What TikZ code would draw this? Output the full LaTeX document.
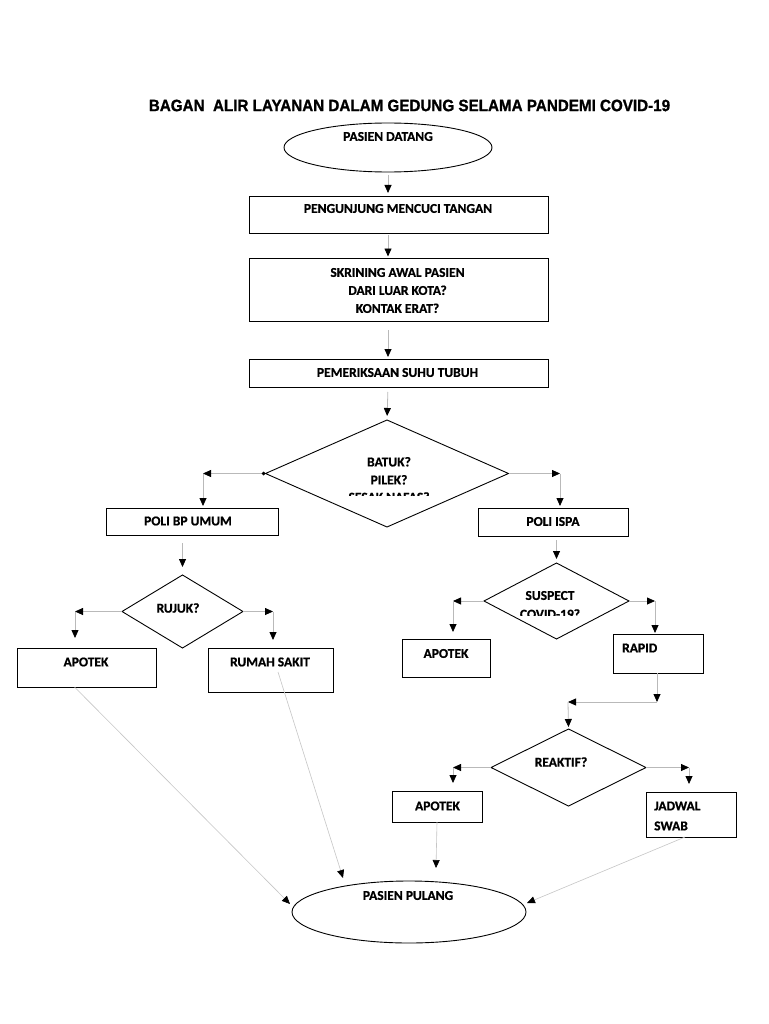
\documentclass[tikz,border=0pt]{standalone}
\usepackage{fontspec}
\setmainfont[BoldFeatures={FakeBold=0.8}]{Carlito}
\newfontfamily\titlefont[BoldFeatures={FakeBold=1.2}]{Liberation Sans}
\usetikzlibrary{arrows.meta,shapes.geometric,calc}
\begin{document}
\begin{tikzpicture}[x=1pt,y=-1pt,
  shp/.style={draw=black,line width=0.9pt,inner sep=0pt,outer sep=0pt},
  box/.style={shp,rectangle},
  ell/.style={shp,ellipse},
  dia/.style={shp,diamond},
  lbl/.style={font=\bfseries\fontsize{13.5}{18}\selectfont,inner sep=0pt,align=center,text=black},
  conn/.style={draw=gray!55,line width=0.8pt,arrows={-Triangle[length=8pt,width=7pt,color=black]}},
  thinconn/.style={conn,draw=gray!45,line width=0.6pt},
]
\useasboundingbox[fill=white] (0,0) rectangle (768,1024);

% title
\node[lbl,font=\titlefont\bfseries\fontsize{15.2}{18}\selectfont,yscale=1.08] (title) at (409.5,105.5) {BAGAN\ \ ALIR LAYANAN DALAM GEDUNG SELAMA PANDEMI COVID-19};

% start
\node[ell,minimum width=208pt,minimum height=49pt] (pd) at (388,147.5) {};
\node[lbl] (pdt) at (388,136.5) {PASIEN DATANG};

% boxes
\node[box,minimum width=299pt,minimum height=37pt] (b1) at (398.5,214.5) {};
\node[lbl] (b1t) at (398,208.5) {PENGUNJUNG MENCUCI TANGAN};
\node[box,minimum width=299pt,minimum height=63pt] (b2) at (398.5,289.5) {};
\node[lbl] (b2t) at (397.5,290.5) {SKRINING AWAL PASIEN\\DARI LUAR KOTA?\\KONTAK ERAT?};
\node[box,minimum width=299pt,minimum height=28pt] (b3) at (398.5,373) {};
\node[lbl] (b3t) at (397.5,372.5) {PEMERIKSAAN SUHU TUBUH};

% decision 1
\node[dia,minimum width=243pt,minimum height=107pt] (d1) at (387,473.5) {};
\node[lbl] (d1t) at (389,470.8) {BATUK?\\PILEK?};
\begin{scope}
  \clip (300,440) rectangle (480,495.5);
  \node[lbl] (d1c) at (389,497) {SESAK NAFAS?};
\end{scope}

\node[box,minimum width=172pt,minimum height=27pt] (pbu) at (192,521.5) {};
\node[lbl] (pbut) at (188,521) {POLI BP UMUM};
\node[box,minimum width=150pt,minimum height=28pt] (pis) at (553,522) {};
\node[lbl] (pist) at (553,521.5) {POLI ISPA};

% decision RUJUK
\node[dia,minimum width=121pt,minimum height=73pt] (d2) at (182.5,611.5) {};
\node[lbl] (d2t) at (178,608) {RUJUK?};
\node[box,minimum width=139pt,minimum height=39pt] (a1) at (86.5,667.5) {};
\node[lbl] (a1t) at (86,662) {APOTEK};
\node[box,minimum width=125pt,minimum height=44pt] (rs) at (270.5,670) {};
\node[lbl] (rst) at (270,662) {RUMAH SAKIT};

% decision SUSPECT
\node[dia,minimum width=145pt,minimum height=76pt] (d3) at (556.5,601) {};
\node[lbl] (d3t) at (550,595.5) {SUSPECT};
\begin{scope}
  \clip (490,600) rectangle (620,615.5);
  \node[lbl] (d3c) at (550,614) {COVID-19?};
\end{scope}
\node[box,minimum width=88pt,minimum height=38pt] (a2) at (446,658) {};
\node[lbl] (a2t) at (446,653.5) {APOTEK};
\node[box,minimum width=90pt,minimum height=39pt] (rp) at (658,653.5) {};
\node[lbl,anchor=west] (rpt) at (622,648) {RAPID};

% decision REAKTIF
\node[dia,minimum width=155pt,minimum height=77pt] (d4) at (568.5,767.5) {};
\node[lbl] (d4t) at (561,762) {REAKTIF?};
\node[box,minimum width=90pt,minimum height=31pt] (a3) at (437,806.5) {};
\node[lbl] (a3t) at (437.5,806) {APOTEK};
\node[box,minimum width=90pt,minimum height=45pt] (js) at (691,814.5) {};
\node[lbl,anchor=west,align=left,font=\bfseries\fontsize{13.5}{20}\selectfont] (jst) at (654,816) {JADWAL\\SWAB};

% end
\node[ell,minimum width=234pt,minimum height=62pt] (pp) at (409,912) {};
\node[lbl] (ppt) at (408,895.5) {PASIEN PULANG};

% main vertical connectors
\draw[conn,shorten <=3pt,shorten >=3pt] (pd.south) -- (pd.south |- b1.north);
\draw[conn,shorten <=2pt,shorten >=1.5pt] (pd.south |- b1.south) -- (pd.south |- b2.north);
\draw[conn,shorten <=9pt,shorten >=2pt] (pd.south |- b2.south) -- (pd.south |- b3.north);
\draw[conn,shorten <=5pt,shorten >=4pt] (pd.south |- b3.south) -- (d1.north);

% decision 1 branches
\coordinate (c1) at (203,473.5);
\coordinate (c2) at (560,473.5);
\draw[conn,arrows={Diamond[length=4pt,width=4pt,color=black]-Triangle[length=8pt,width=7pt,color=black]}] (d1.west) -- (c1);
\draw[conn,shorten >=2pt] (c1) -- (c1 |- pbu.north);
\draw[conn] (d1.east) -- (c2);
\draw[conn,shorten >=2pt] (c2) -- (c2 |- pis.north);

% RUJUK
\draw[conn,shorten <=8pt,shorten >=8pt] (pbu.south -| d2.north) -- (d2.north);
\coordinate (c3) at (75,611.5);
\coordinate (c4) at (273,611.5);
\draw[conn] (d2.west) -- (c3);
\draw[conn,shorten >=10pt] (c3) -- (c3 |- a1.north);
\draw[conn] (d2.east) -- (c4);
\draw[conn,shorten >=8pt] (c4) -- (c4 |- rs.north);

% SUSPECT
\draw[conn,shorten <=4pt,shorten >=4pt] (pis.south -| d3.north) -- (d3.north);
\coordinate (c5) at (453,601);
\coordinate (c6) at (655,601);
\draw[conn] (d3.west) -- (c5);
\draw[conn,shorten >=7pt] (c5) -- (c5 |- a2.north);
\draw[conn] (d3.east) -- (c6);
\draw[conn,shorten >=1pt] (c6) -- (c6 |- rp.north);

% RAPID -> REAKTIF
\coordinate (c7) at (657,702);
\coordinate (c8) at (568,702);
\draw[conn] (rp.south -| c7) -- (c7);
\draw[conn] (c7) -- (c8);
\draw[conn,shorten >=2pt] (c8) -- (d4.north);

% REAKTIF
\coordinate (c9) at (453,767.5);
\coordinate (c10) at (689,767.5);
\draw[conn] (d4.west) -- (c9);
\draw[conn,shorten >=8pt] (c9) -- (c9 |- a3.north);
\draw[conn] (d4.east) -- (c10);
\draw[conn,shorten >=8pt] (c10) -- (c10 |- js.north);

% to PASIEN PULANG
\coordinate (e1) at (290,904);
\coordinate (e2) at (343,878);
\coordinate (e3) at (436,868);
\coordinate (e4) at (527,903);
\draw[thinconn] ($(a1.south)+(-12,0)$) -- (e1);
\draw[thinconn] ($(rs.center)+(7.5,2)$) -- (e2);
\draw[thinconn] (a3.south) -- (e3);
\draw[thinconn] ($(js.south)+(-6,0)$) -- (e4);
\end{tikzpicture}
\end{document}
